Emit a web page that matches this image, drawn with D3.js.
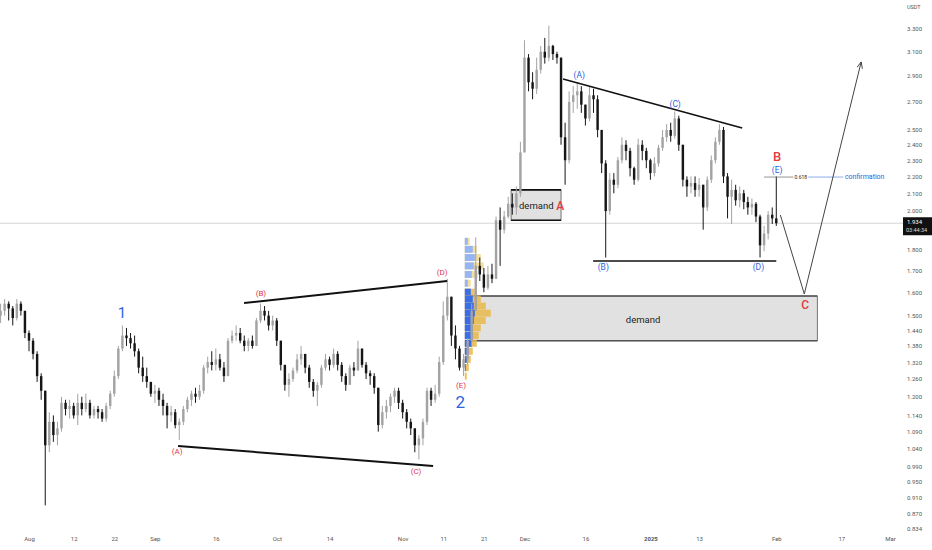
<!DOCTYPE html>
<html><head><meta charset="utf-8">
<script src="https://cdn.jsdelivr.net/npm/d3@7"></script>
<style>
html,body{margin:0;padding:0;background:#fff;}
svg{display:block;font-family:Roboto,"Noto Sans",sans-serif;}
</style></head>
<body><svg id="chart" width="932" height="550"></svg>
<script>
// ---------- DATA ----------
const startDate = "2024-07-25";        // first daily candle
const firstOpen = 1.50;
const closes = [
1.52,1.55,1.53,1.49,1.55,1.52,1.43,
1.40,1.35,1.27,1.22,1.05,1.12,1.08,1.10,1.18,1.16,
1.17,1.14,1.18,1.16,1.18,1.14,1.16,1.15,1.13,1.17,
1.21,1.27,1.37,1.42,1.41,1.39,1.36,1.30,1.27,1.25,
1.21,1.22,1.19,1.17,1.14,1.15,1.11,1.12,1.16,1.19,
1.21,1.20,1.22,1.30,1.32,1.31,1.33,1.30,1.27,1.40,
1.42,1.43,1.40,1.38,1.40,1.38,1.48,1.52,1.50,1.46,
1.48,1.40,1.31,1.24,1.26,1.29,1.33,1.35,1.30,1.25,
1.22,1.24,1.30,1.33,1.31,1.35,1.31,1.27,1.24,1.30,
1.29,1.37,1.31,1.28,1.27,1.23,1.11,1.15,1.17,1.20,
1.22,1.18,1.15,1.12,1.10,1.05,1.07,1.12,1.22,1.19,
1.21,1.32,1.50,1.58,1.42,1.37,1.30,1.33,1.40,1.52,
1.72,1.68,1.62,1.68,1.66,1.95,1.90,1.97,2.04,2.02,
2.10,2.35,3.05,2.85,2.80,2.95,3.10,3.05,3.15,3.08,
3.05,2.45,2.30,2.70,2.75,2.78,2.68,2.58,2.75,2.72,
2.50,2.28,2.00,2.18,2.15,2.30,2.40,2.36,2.25,2.18,
2.40,2.36,2.30,2.22,2.28,2.38,2.45,2.50,2.46,2.58,
2.40,2.18,2.14,2.16,2.12,2.15,2.02,2.18,2.30,2.42,
2.50,2.20,2.08,2.12,2.06,2.10,2.05,2.02,2.04,1.97,
1.82,1.88,1.98,1.96,1.934];
const highs = [
1.55,1.57,1.56,1.54,1.57,1.56,1.52,
1.44,1.41,1.36,1.28,1.22,1.15,1.14,1.12,1.20,1.19,
1.19,1.18,1.21,1.20,1.21,1.19,1.17,1.17,1.16,1.18,
1.22,1.29,1.38,1.46,1.45,1.43,1.42,1.37,1.34,1.30,
1.25,1.24,1.23,1.21,1.18,1.17,1.16,1.13,1.17,1.20,
1.22,1.23,1.24,1.31,1.34,1.36,1.37,1.35,1.32,1.41,
1.44,1.46,1.45,1.42,1.41,1.42,1.49,1.55,1.54,1.52,
1.50,1.49,1.40,1.31,1.28,1.30,1.35,1.38,1.35,1.31,
1.26,1.25,1.31,1.35,1.34,1.37,1.36,1.32,1.28,1.31,
1.32,1.40,1.37,1.32,1.29,1.28,1.23,1.17,1.19,1.21,
1.23,1.23,1.19,1.16,1.13,1.10,1.08,1.13,1.23,1.23,
1.24,1.34,1.56,1.66,1.55,1.46,1.38,1.35,1.41,1.55,
1.86,1.76,1.71,1.72,1.73,1.97,2.02,2.00,2.08,2.10,
2.14,2.42,3.20,3.08,2.93,3.05,3.15,3.22,3.33,3.16,
3.10,3.05,2.55,2.78,2.82,2.85,2.82,2.68,2.82,2.80,
2.75,2.48,2.30,2.22,2.22,2.32,2.45,2.43,2.38,2.26,
2.44,2.43,2.38,2.31,2.32,2.40,2.50,2.54,2.55,2.63,
2.60,2.40,2.20,2.20,2.20,2.19,2.14,2.20,2.33,2.45,
2.54,2.52,2.22,2.18,2.15,2.14,2.12,2.08,2.07,2.05,
1.98,1.92,2.00,2.02,2.20];
const lows = [
1.47,1.50,1.48,1.46,1.48,1.50,1.41,
1.36,1.33,1.25,1.19,0.89,1.03,1.06,1.05,1.09,1.14,
1.13,1.13,1.11,1.14,1.15,1.13,1.13,1.13,1.12,1.12,
1.16,1.20,1.26,1.36,1.38,1.37,1.34,1.28,1.25,1.23,
1.20,1.18,1.17,1.14,1.10,1.12,1.10,1.065,1.11,1.15,
1.17,1.18,1.19,1.21,1.28,1.29,1.29,1.29,1.25,1.27,
1.39,1.40,1.39,1.36,1.36,1.37,1.39,1.47,1.48,1.44,
1.44,1.38,1.29,1.22,1.20,1.25,1.28,1.31,1.28,1.23,
1.20,1.17,1.23,1.29,1.29,1.30,1.29,1.25,1.22,1.24,
1.27,1.29,1.30,1.26,1.24,1.21,1.09,1.10,1.13,1.15,
1.18,1.16,1.13,1.10,1.08,1.03,1.01,1.05,1.11,1.17,
1.18,1.20,1.31,1.48,1.38,1.33,1.29,1.27,1.31,1.38,
1.52,1.65,1.60,1.61,1.64,1.66,1.72,1.88,1.96,1.98,
1.98,2.08,2.35,2.78,2.72,2.76,2.92,3.00,3.02,3.03,
3.00,2.40,2.15,2.28,2.62,2.65,2.62,2.53,2.56,2.62,
2.45,2.22,1.76,1.98,2.10,2.13,2.28,2.30,2.20,2.15,
2.17,2.30,2.25,2.18,2.20,2.26,2.36,2.42,2.42,2.44,
2.36,2.14,2.08,2.10,2.08,2.08,1.90,2.00,2.16,2.28,
2.40,2.16,1.96,1.93,2.03,2.02,2.01,1.98,1.98,1.94,
1.76,1.79,1.85,1.93,1.92];
const lastPrice = 1.934;
const countdown = "03:44:34";

const yTicks = [3.3,3.1,2.9,2.7,2.5,2.4,2.3,2.2,2.1,2.0,1.8,1.7,1.6,1.5,1.44,1.38,1.32,1.26,1.2,1.14,1.09,1.04,0.99,0.95,0.91,0.87,0.834];
const xTickDates = ["2024-08-01","2024-08-12","2024-08-22","2024-09-01","2024-09-16","2024-10-01","2024-10-14","2024-11-01","2024-11-11","2024-11-21","2024-12-01","2024-12-16","2025-01-01","2025-01-13","2025-02-01","2025-02-17","2025-03-01"];
const xTickLabels = ["Aug","12","22","Sep","16","Oct","14","Nov","11","21","Dec","16","2025","13","Feb","17","Mar"];

// volume profile (anchored Nov 16)
const vpPrices = [1.84,1.80,1.76,1.72,1.68,1.64,1.60,1.57,1.54,1.51,1.48,1.45,1.42,1.39,1.36,1.33,1.30,1.27];
const vpBuy    = [3,8,10,9,7,3,6,8,9,10,9,8,8,7,4,2,1,0];
const vpSell   = [2,4,6,10,6,3,4,8,12,16,12,8,6,5,4,4,3,2];
const vpAnchor = 107.3;   // days after Aug 1

// annotations (day offset from 2024-08-01, price)
const trendlines = [
  {d1:36.7,p1:1.048,d2:99.5,p2:0.992,w:2},
  {d1:52.96,p1:1.553,d2:102.96,p2:1.650,w:2},
  {d1:131.5,p1:2.876,d2:175.6,p2:2.513,w:1.6},
  {d1:138.9,p1:1.743,d2:184,p2:1.743,w:1.4}
];
const demandZones = [
  {d1:118.7,d2:131,top:2.12,bot:1.95,label:"demand",ld:124.9,lp:2.028},
  {d1:108.6,d2:194.1,top:1.583,bot:1.40,label:"demand",ld:151.2,lp:1.486}
];
const redSmall = [
  {t:"(A)",d:36.5,p:1.031},{t:"(B)",d:57.1,p:1.592},{t:"(C)",d:95.3,p:0.976},
  {t:"(D)",d:101.7,p:1.687},{t:"(E)",d:106.4,p:1.239}
];
const blueSmall = [
  {t:"(A)",d:135.5,p:2.908},{t:"(B)",d:141.4,p:1.715},{t:"(C)",d:159.1,p:2.685},
  {t:"(D)",d:179.6,p:1.715},{t:"(E)",d:184.2,p:2.239}
];
const waveBig = [
  {t:"1",d:22.9,p:1.511,c:"blue",s:15},{t:"2",d:106.2,p:1.183,c:"blue",s:17},
  {t:"A",d:130.8,p:2.028,c:"red",s:12},{t:"B",d:184.2,p:2.321,c:"red",s:13},
  {t:"C",d:191.1,p:1.545,c:"red",s:12}
];
const fib = {level:"0.618", p:2.196, d1:181, d2:188.2, dt:188.5, b1:191.9, b2:200.5, text:"confirmation", td:200.9};
const projection = [{d:185,p:1.978},{d:190.9,p:1.592},{d:204.9,p:3.014}];

// ---------- CHART ----------
const W = 932, H = 550;
const svg = d3.select("#chart");
const parse = d3.utcParse("%Y-%m-%d");
const base = parse("2024-08-01");
const dayMs = 864e5;
const dateOf = d => new Date(base.getTime() + d*dayMs);

const x = d3.scaleUtc().domain([parse("2024-08-01"), parse("2025-03-01")]).range([29, 890]);
const y = d3.scaleLog().domain([0.834, 3.3]).range([529, 29]);
const dx = d => x(dateOf(d));

const RED = "#e0344d", BLUE = "#2f62e0";

const start = parse(startDate);
const candles = closes.map((c,i) => {
  const o = i === 0 ? firstOpen : closes[i-1];
  return {date:new Date(start.getTime()+i*dayMs), o, c,
          h:Math.max(highs[i],o,c), l:Math.min(lows[i],o,c)};
});

// demand zones (behind)
const gz = svg.append("g");
demandZones.forEach((z,i) => {
  const x1 = dx(z.d1), x2 = dx(z.d2), yt = y(z.top), yb = y(z.bot);
  gz.append("rect").attr("x",x1).attr("y",yt).attr("width",x2-x1).attr("height",yb-yt)
    .attr("fill","#e1e1e1").attr("stroke","#555").attr("stroke-width",0.8);
  gz.append("line").attr("x1",x1).attr("x2",x2).attr("y1",yt).attr("y2",yt)
    .attr("stroke", i===0?"#111":"#555").attr("stroke-width",1.6);
  gz.append("line").attr("x1",x1).attr("x2",x2).attr("y1",yb).attr("y2",yb)
    .attr("stroke", i===0?"#111":"#555").attr("stroke-width",1.4);
  gz.append("text").attr("x",dx(z.ld)).attr("y",y(z.lp)).attr("text-anchor","middle")
    .attr("dominant-baseline","central").attr("font-size",9.5).attr("fill","#222").text(z.label);
});

// current price line
svg.append("line").attr("x1",0).attr("x2",903).attr("y1",y(lastPrice)).attr("y2",y(lastPrice))
  .attr("stroke","#c9c9c9").attr("stroke-width",0.8);

// volume profile
const vx = d3.scaleLinear().domain([0,1]).range([0,1]);
const gv = svg.append("g");
const vpX0 = dx(vpAnchor);
vpPrices.forEach((p,i) => {
  const yc = y(p);
  const hgt = 7;
  const va = p < 1.62;
  gv.append("rect").attr("x",vpX0).attr("y",yc-hgt/2).attr("width",vx(vpBuy[i]+vpSell[i])).attr("height",hgt)
    .attr("fill", va ? "#e9b949" : "#f1d98f").attr("opacity",0.85);
  gv.append("rect").attr("x",vpX0).attr("y",yc-hgt/2).attr("width",vx(vpBuy[i])).attr("height",hgt)
    .attr("fill", va ? "#3a6ee8" : "#97b5f2");
});

// candles
const bw = Math.max(1.4, (x(dateOf(1))-x(dateOf(0)))*0.6);
const gc = svg.append("g");
candles.forEach(k => {
  const cx = x(k.date);
  const up = k.c >= k.o;
  const col = up ? "#a3a3a3" : "#161616";
  gc.append("line").attr("x1",cx).attr("x2",cx).attr("y1",y(k.h)).attr("y2",y(k.l))
    .attr("stroke",col).attr("stroke-width",1);
  const yt = y(Math.max(k.o,k.c)), yb = y(Math.min(k.o,k.c));
  gc.append("rect").attr("x",cx-bw/2).attr("y",yt).attr("width",bw).attr("height",Math.max(1,yb-yt))
    .attr("fill",col);
});

// trendlines
trendlines.forEach(t => {
  svg.append("line").attr("x1",dx(t.d1)).attr("y1",y(t.p1)).attr("x2",dx(t.d2)).attr("y2",y(t.p2))
    .attr("stroke","#111").attr("stroke-width",t.w);
});

// fib confirmation
svg.append("line").attr("x1",dx(fib.d1)).attr("x2",dx(fib.d2)).attr("y1",y(fib.p)).attr("y2",y(fib.p))
  .attr("stroke","#777").attr("stroke-width",0.8);
svg.append("text").attr("x",dx(fib.dt)).attr("y",y(fib.p)).attr("dominant-baseline","central")
  .attr("font-size",5).attr("fill","#222").text(fib.level);
svg.append("line").attr("x1",dx(fib.b1)).attr("x2",dx(fib.b2)).attr("y1",y(fib.p)).attr("y2",y(fib.p))
  .attr("stroke","#6f95ea").attr("stroke-width",0.8);
svg.append("text").attr("x",dx(fib.td)).attr("y",y(fib.p)).attr("dominant-baseline","central")
  .attr("font-size",7).attr("fill",BLUE).text(fib.text);

// projection path with arrow
svg.append("defs").append("marker").attr("id","arr").attr("viewBox","0 0 10 10")
  .attr("refX",9).attr("refY",5).attr("markerWidth",7).attr("markerHeight",7).attr("orient","auto")
  .append("path").attr("d","M0,1 L9,5 L0,9").attr("fill","none").attr("stroke","#444").attr("stroke-width",1.3);
svg.append("path")
  .attr("d", d3.line().x(d=>dx(d.d)).y(d=>y(d.p))(projection))
  .attr("fill","none").attr("stroke","#444").attr("stroke-width",1).attr("marker-end","url(#arr)");

// labels
redSmall.forEach(l => svg.append("text").attr("x",dx(l.d)).attr("y",y(l.p)).attr("text-anchor","middle")
  .attr("dominant-baseline","central").attr("font-size",8).attr("fill",RED).text(l.t));
blueSmall.forEach(l => svg.append("text").attr("x",dx(l.d)).attr("y",y(l.p)).attr("text-anchor","middle")
  .attr("dominant-baseline","central").attr("font-size",8.5).attr("fill",BLUE).text(l.t));
waveBig.forEach(l => svg.append("text").attr("x",dx(l.d)).attr("y",y(l.p)).attr("text-anchor","middle")
  .attr("dominant-baseline","central").attr("font-size",l.s).attr("font-weight",l.c==="red"?500:400)
  .attr("fill",l.c==="red"?"#e53a40":BLUE).text(l.t));

// y axis
const gy = svg.append("g").attr("transform","translate(905,0)")
  .call(d3.axisRight(y).tickValues(yTicks).tickFormat(d3.format(".3f")).tickSize(0).tickPadding(2));
gy.select(".domain").remove();
gy.selectAll("text").attr("font-size",6).attr("fill","#555").attr("font-family","Roboto,sans-serif");
svg.append("text").attr("x",907).attr("y",9).attr("font-size",5.5).attr("fill","#555").text("USDT");

// last price tag
const ly = y(lastPrice);
svg.append("rect").attr("x",903).attr("y",ly-6).attr("width",29).attr("height",18).attr("fill","#111");
svg.append("text").attr("x",907).attr("y",ly+1).attr("font-size",6).attr("fill","#fff").text(lastPrice.toFixed(3));
svg.append("text").attr("x",906).attr("y",ly+9).attr("font-size",5.5).attr("fill","#ddd").text(countdown);

// x axis
const gx = svg.append("g").attr("transform","translate(0,535)")
  .call(d3.axisBottom(x).tickValues(xTickDates.map(parse)).tickFormat((d,i)=>xTickLabels[i]).tickSize(0).tickPadding(2));
gx.select(".domain").remove();
gx.selectAll("text").attr("font-size",6).attr("fill","#555").attr("font-family","Roboto,sans-serif")
  .attr("font-weight",(d,i)=>xTickLabels[i]==="2025"?700:400);
</script>
</body></html>
